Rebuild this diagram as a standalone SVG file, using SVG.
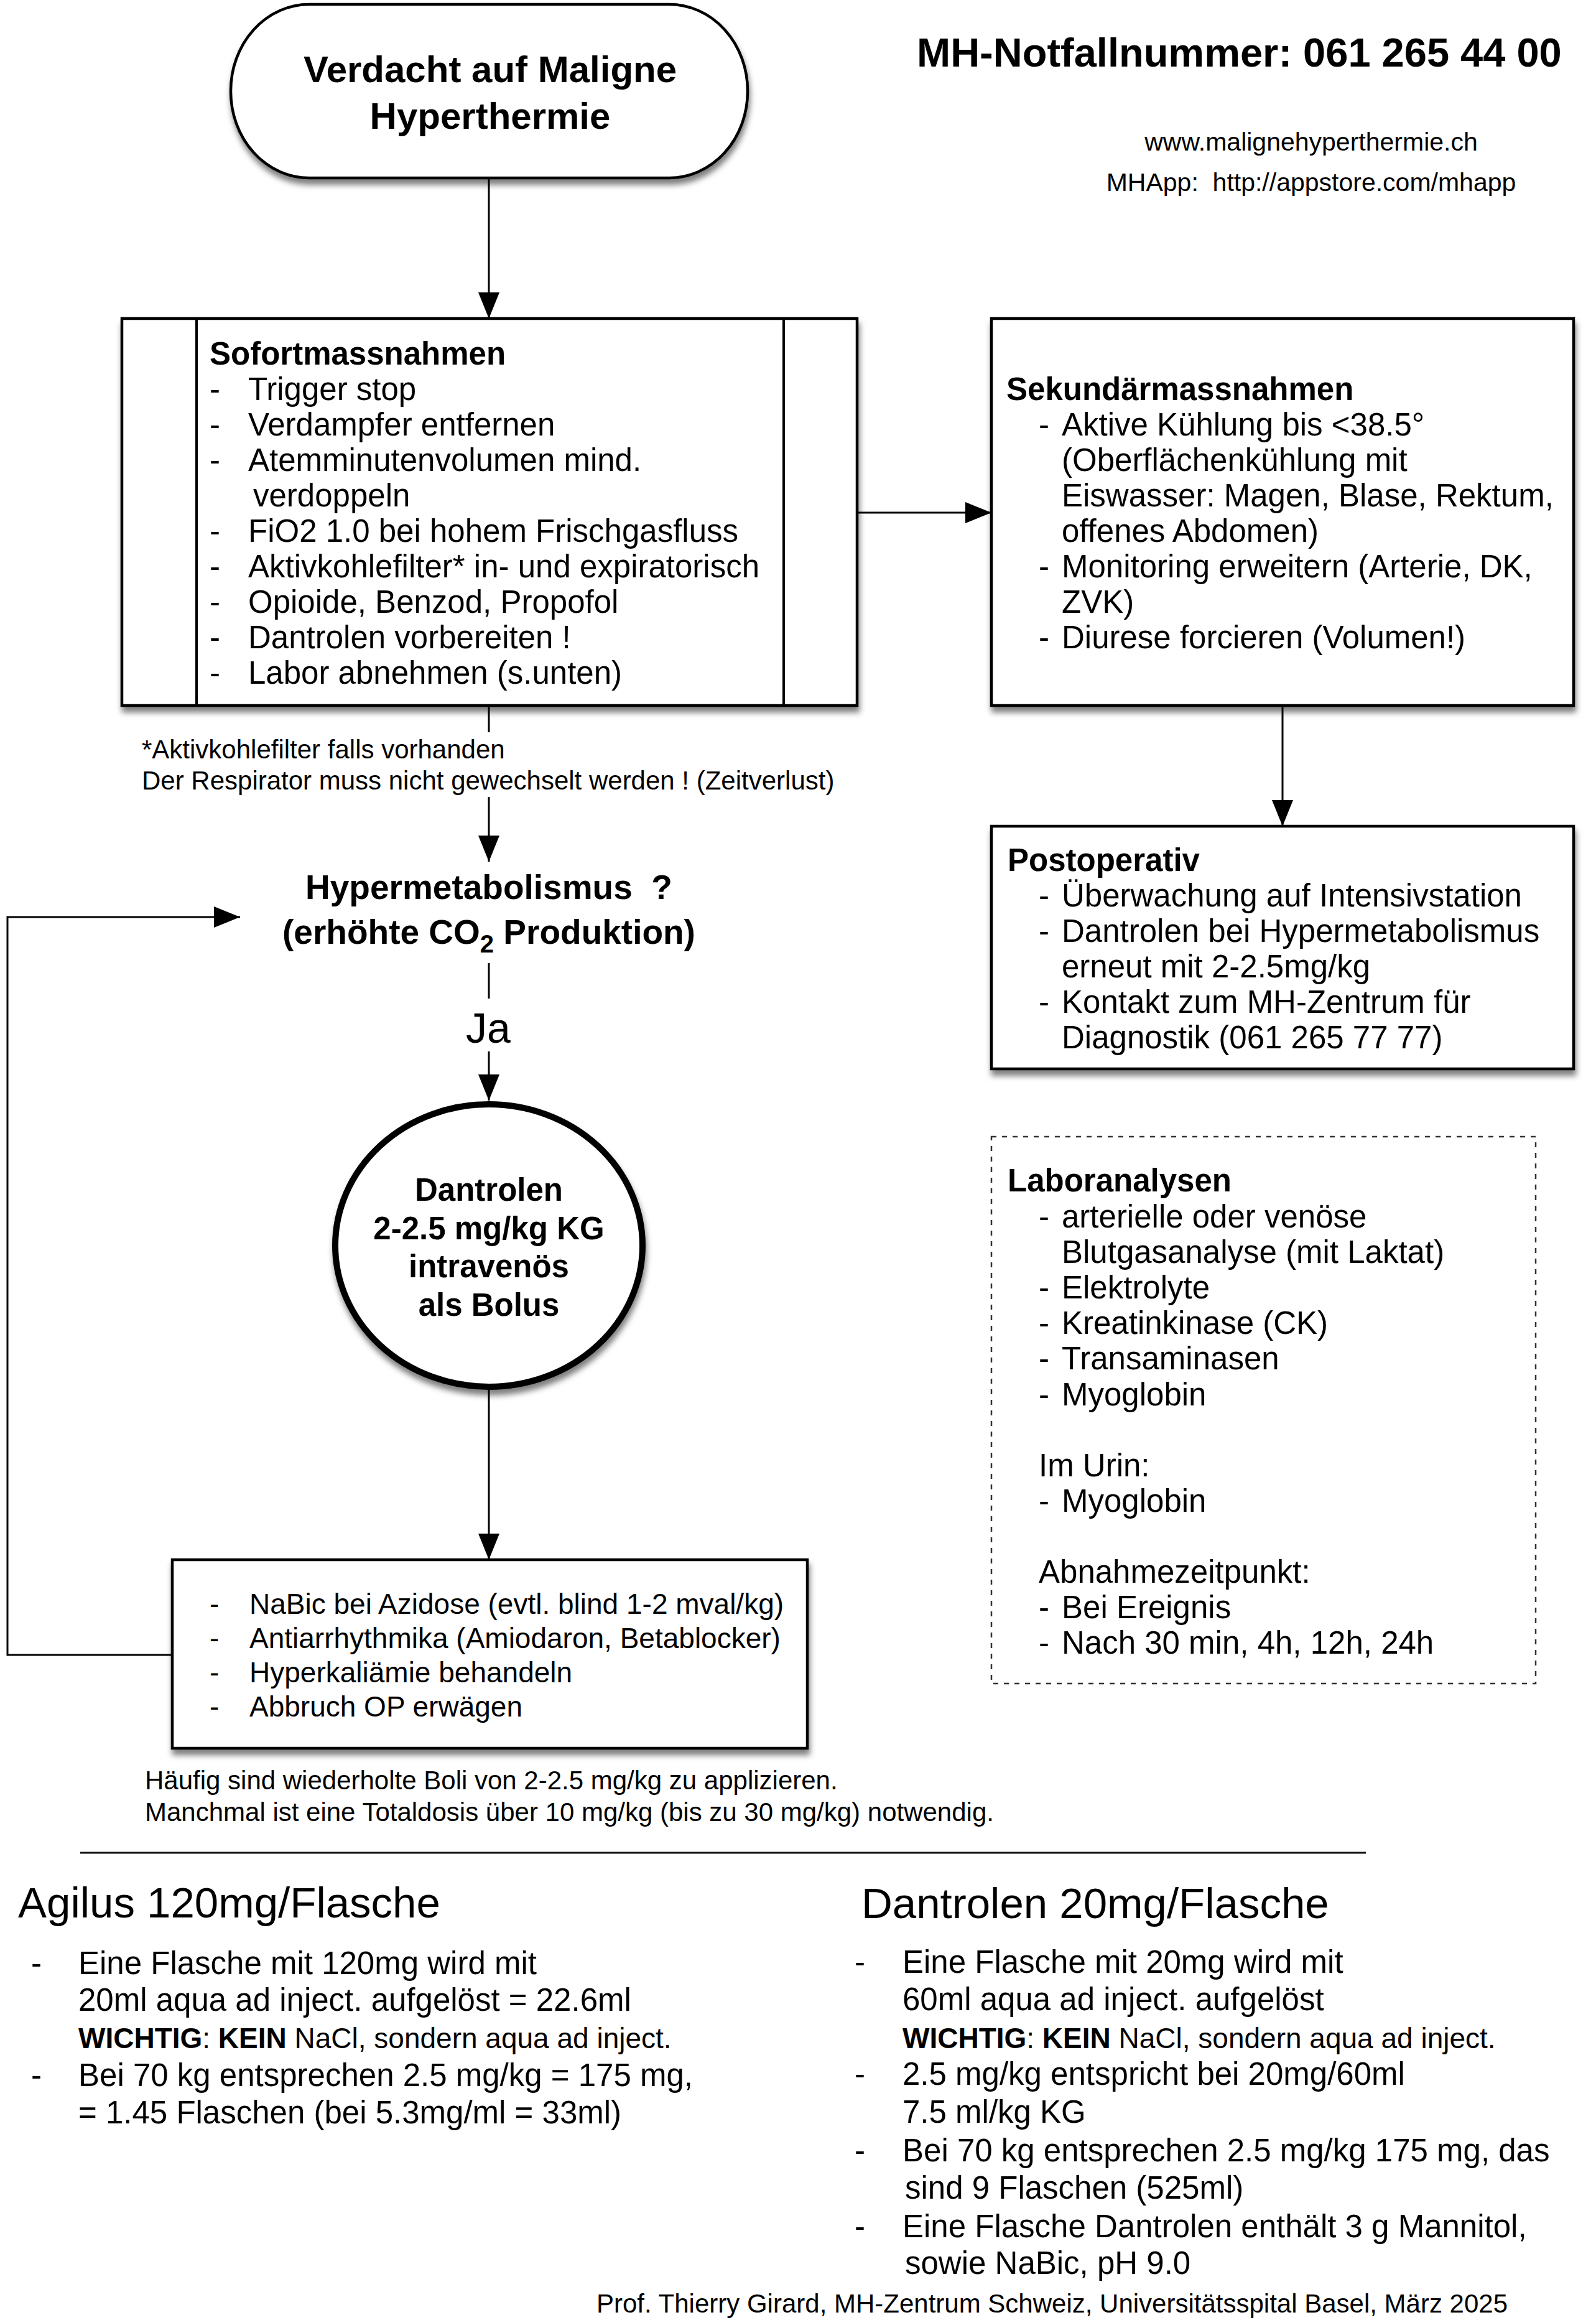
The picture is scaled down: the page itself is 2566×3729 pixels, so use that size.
<svg xmlns="http://www.w3.org/2000/svg" width="2566" height="3729" viewBox="0 0 2566 3729">
<style>
text{font-family:"Liberation Sans",Arial,Helvetica,sans-serif;fill:#000}
.b{font-weight:bold}
.f42{font-size:42px}
.f41{font-size:41px}
.f46{font-size:46px}
.f51{font-size:51px}
.f55{font-size:55px}
.f60{font-size:60px}
.f65{font-size:65px}
.f68{font-size:68px}
.f69{font-size:69px}
.mid{text-anchor:middle}
.box{fill:#fff;stroke:#000;stroke-width:4.5}
.conn{fill:none;stroke:#000;stroke-width:3}
.dot{fill:none;stroke:#333;stroke-width:2.5;stroke-dasharray:8 9}
</style>
<defs>
<filter id="sh" x="-10%" y="-10%" width="125%" height="135%">
<feDropShadow dx="2" dy="9" stdDeviation="5" flood-color="#000" flood-opacity="0.5"/>
</filter>
<marker id="ah" markerUnits="userSpaceOnUse" markerWidth="44" markerHeight="36" refX="42" refY="17" orient="auto">
<path d="M0,0 L42,17 L0,34 z" fill="#000"/>
</marker>
</defs>
<rect width="2566" height="3729" fill="#fff"/>

<g id="header">
<text class="b f65" x="1474" y="107">MH-Notfallnummer: 061 265 44 00</text>
<text class="f41 mid" x="2108" y="242">www.malignehyperthermie.ch</text>
<text class="f41 mid" x="2108" y="307" xml:space="preserve">MHApp:  http://appstore.com/mhapp</text>
</g>

<g id="connectors">
<path class="conn" d="M786,286 V512" marker-end="url(#ah)"/>
<path class="conn" d="M1378,824 H1594" marker-end="url(#ah)"/>
<path class="conn" d="M2062,1134 V1328" marker-end="url(#ah)"/>
<path class="conn" d="M786,1134 V1177 M786,1281 V1385" marker-end="url(#ah)"/>
<path class="conn" d="M786,1548 V1605"/>
<path class="conn" d="M786,1690 V1769" marker-end="url(#ah)"/>
<path class="conn" d="M786,2234 V2507" marker-end="url(#ah)"/>
<path class="conn" d="M277,2660 H12 V1474 H386" stroke-width="4" marker-end="url(#ah)"/>
<text class="f68 mid" x="785" y="1676">Ja</text>
</g>

<g id="start">
<rect class="box" x="371" y="7" width="831" height="279" rx="126" ry="139" filter="url(#sh)"/>
<text class="b f60 mid" x="788" y="132">Verdacht auf Maligne</text>
<text class="b f60 mid" x="788" y="207">Hyperthermie</text>
</g>

<g id="sofort">
<rect class="box" x="196" y="512" width="1182" height="622" filter="url(#sh)"/>
<line x1="316" y1="512" x2="316" y2="1134" stroke="#000" stroke-width="4"/>
<line x1="1260" y1="512" x2="1260" y2="1134" stroke="#000" stroke-width="4"/>
<text class="b f51" x="337" y="586">Sofortmassnahmen</text>
<g class="f51">
<text y="643"><tspan x="337">-</tspan><tspan x="399">Trigger stop</tspan></text>
<text y="700"><tspan x="337">-</tspan><tspan x="399">Verdampfer entfernen</tspan></text>
<text y="757"><tspan x="337">-</tspan><tspan x="399">Atemminutenvolumen mind.</tspan></text>
<text y="814"><tspan x="407">verdoppeln</tspan></text>
<text y="871"><tspan x="337">-</tspan><tspan x="399">FiO2 1.0 bei hohem Frischgasfluss</tspan></text>
<text y="928"><tspan x="337">-</tspan><tspan x="399">Aktivkohlefilter* in- und expiratorisch</tspan></text>
<text y="985"><tspan x="337">-</tspan><tspan x="399">Opioide, Benzod, Propofol</tspan></text>
<text y="1042"><tspan x="337">-</tspan><tspan x="399">Dantrolen vorbereiten !</tspan></text>
<text y="1099"><tspan x="337">-</tspan><tspan x="399">Labor abnehmen (s.unten)</tspan></text>
</g>
</g>

<g id="footnote">
<text class="f42" x="228" y="1219">*Aktivkohlefilter falls vorhanden</text>
<text class="f42" x="228" y="1269">Der Respirator muss nicht gewechselt werden ! (Zeitverlust)</text>
</g>

<g id="sekundaer">
<rect class="box" x="1594" y="512" width="936" height="622" filter="url(#sh)"/>
<text class="b f51" x="1618" y="643">Sekundärmassnahmen</text>
<g class="f51">
<text y="700"><tspan x="1670">-</tspan><tspan x="1707">Aktive Kühlung bis &lt;38.5°</tspan></text>
<text x="1707" y="757">(Oberflächenkühlung mit</text>
<text x="1707" y="814">Eiswasser: Magen, Blase, Rektum,</text>
<text x="1707" y="871">offenes Abdomen)</text>
<text y="928"><tspan x="1670">-</tspan><tspan x="1707">Monitoring erweitern (Arterie, DK,</tspan></text>
<text x="1707" y="985">ZVK)</text>
<text y="1042"><tspan x="1670">-</tspan><tspan x="1707">Diurese forcieren (Volumen!)</tspan></text>
</g>
</g>

<g id="postop">
<rect class="box" x="1594" y="1328" width="936" height="390" filter="url(#sh)"/>
<text class="b f51" x="1620" y="1400">Postoperativ</text>
<g class="f51">
<text y="1457"><tspan x="1670">-</tspan><tspan x="1707">Überwachung auf Intensivstation</tspan></text>
<text y="1514"><tspan x="1670">-</tspan><tspan x="1707">Dantrolen bei Hypermetabolismus</tspan></text>
<text x="1707" y="1571">erneut mit 2-2.5mg/kg</text>
<text y="1628"><tspan x="1670">-</tspan><tspan x="1707">Kontakt zum MH-Zentrum für</tspan></text>
<text x="1707" y="1685">Diagnostik (061 265 77 77)</text>
</g>
</g>

<g id="hyper">
<text class="b f55 mid" x="786" y="1445" xml:space="preserve">Hypermetabolismus  ?</text>
<text class="b f55 mid" x="786" y="1517">(erhöhte CO<tspan font-size="40" dy="14">2</tspan><tspan dy="-14"> Produktion)</tspan></text>
</g>

<g id="dantrolen-bolus">
<ellipse cx="786" cy="2002" rx="247" ry="227" fill="#fff" stroke="#000" stroke-width="10" filter="url(#sh)"/>
<text class="b f51 mid" x="786" y="1930">Dantrolen</text>
<text class="b f51 mid" x="786" y="1992">2-2.5 mg/kg KG</text>
<text class="b f51 mid" x="786" y="2053">intravenös</text>
<text class="b f51 mid" x="786" y="2115">als Bolus</text>
</g>

<g id="labor">
<rect class="dot" x="1594" y="1827" width="875" height="879"/>
<text class="b f51" x="1620" y="1915">Laboranalysen</text>
<g class="f51">
<text y="1973"><tspan x="1670">-</tspan><tspan x="1707">arterielle oder venöse</tspan></text>
<text x="1707" y="2030">Blutgasanalyse (mit Laktat)</text>
<text y="2087"><tspan x="1670">-</tspan><tspan x="1707">Elektrolyte</tspan></text>
<text y="2144"><tspan x="1670">-</tspan><tspan x="1707">Kreatinkinase (CK)</tspan></text>
<text y="2201"><tspan x="1670">-</tspan><tspan x="1707">Transaminasen</tspan></text>
<text y="2259"><tspan x="1670">-</tspan><tspan x="1707">Myoglobin</tspan></text>
<text x="1670" y="2373">Im Urin:</text>
<text y="2430"><tspan x="1670">-</tspan><tspan x="1707">Myoglobin</tspan></text>
<text x="1670" y="2544">Abnahmezeitpunkt:</text>
<text y="2601"><tspan x="1670">-</tspan><tspan x="1707">Bei Ereignis</tspan></text>
<text y="2658"><tspan x="1670">-</tspan><tspan x="1707">Nach 30 min, 4h, 12h, 24h</tspan></text>
</g>
</g>

<g id="massnahmen2">
<rect class="box" x="277" y="2507" width="1021" height="303" filter="url(#sh)"/>
<g class="f46">
<text y="2594"><tspan x="337">-</tspan><tspan x="401">NaBic bei Azidose (evtl. blind 1-2 mval/kg)</tspan></text>
<text y="2649"><tspan x="337">-</tspan><tspan x="401">Antiarrhythmika (Amiodaron, Betablocker)</tspan></text>
<text y="2704"><tspan x="337">-</tspan><tspan x="401">Hyperkaliämie behandeln</tspan></text>
<text y="2759"><tspan x="337">-</tspan><tspan x="401">Abbruch OP erwägen</tspan></text>
</g>
</g>

<g id="bolus-note">
<text class="f42" x="233" y="2876">Häufig sind wiederholte Boli von 2-2.5 mg/kg zu applizieren.</text>
<text class="f42" x="233" y="2927">Manchmal ist eine Totaldosis über 10 mg/kg (bis zu 30 mg/kg) notwendig.</text>
</g>

<line x1="129" y1="2978" x2="2196" y2="2978" stroke="#111" stroke-width="3"/>

<g id="agilus">
<text class="f69" x="29" y="3082">Agilus 120mg/Flasche</text>
<g class="f51">
<text y="3173"><tspan x="50">-</tspan><tspan x="126">Eine Flasche mit 120mg wird mit</tspan></text>
<text x="126" y="3232">20ml aqua ad inject. aufgelöst = 22.6ml</text>
<text x="126" y="3292" class="f46"><tspan class="b">WICHTIG</tspan>: <tspan class="b">KEIN</tspan> NaCl, sondern aqua ad inject.</text>
<text y="3353"><tspan x="50">-</tspan><tspan x="126">Bei 70 kg entsprechen 2.5 mg/kg = 175 mg,</tspan></text>
<text x="126" y="3413">= 1.45 Flaschen (bei 5.3mg/ml = 33ml)</text>
</g>
</g>

<g id="dantrolen20">
<text class="f69" x="1385" y="3083">Dantrolen 20mg/Flasche</text>
<g class="f51">
<text y="3171"><tspan x="1374">-</tspan><tspan x="1451">Eine Flasche mit 20mg wird mit</tspan></text>
<text x="1451" y="3231">60ml aqua ad inject. aufgelöst</text>
<text x="1451" y="3292" class="f46"><tspan class="b">WICHTIG</tspan>: <tspan class="b">KEIN</tspan> NaCl, sondern aqua ad inject.</text>
<text y="3351"><tspan x="1374">-</tspan><tspan x="1451">2.5 mg/kg entspricht bei 20mg/60ml</tspan></text>
<text x="1451" y="3412">7.5 ml/kg KG</text>
<text y="3474"><tspan x="1374">-</tspan><tspan x="1451">Bei 70 kg entsprechen 2.5 mg/kg 175 mg, das</tspan></text>
<text x="1455" y="3534">sind 9 Flaschen (525ml)</text>
<text y="3596"><tspan x="1374">-</tspan><tspan x="1451">Eine Flasche Dantrolen enthält 3 g Mannitol,</tspan></text>
<text x="1455" y="3655">sowie NaBic, pH 9.0</text>
</g>
<text class="f42" x="2424" y="3717" text-anchor="end">Prof. Thierry Girard, MH-Zentrum Schweiz, Universitätsspital Basel, März 2025</text>
</g>
</svg>
